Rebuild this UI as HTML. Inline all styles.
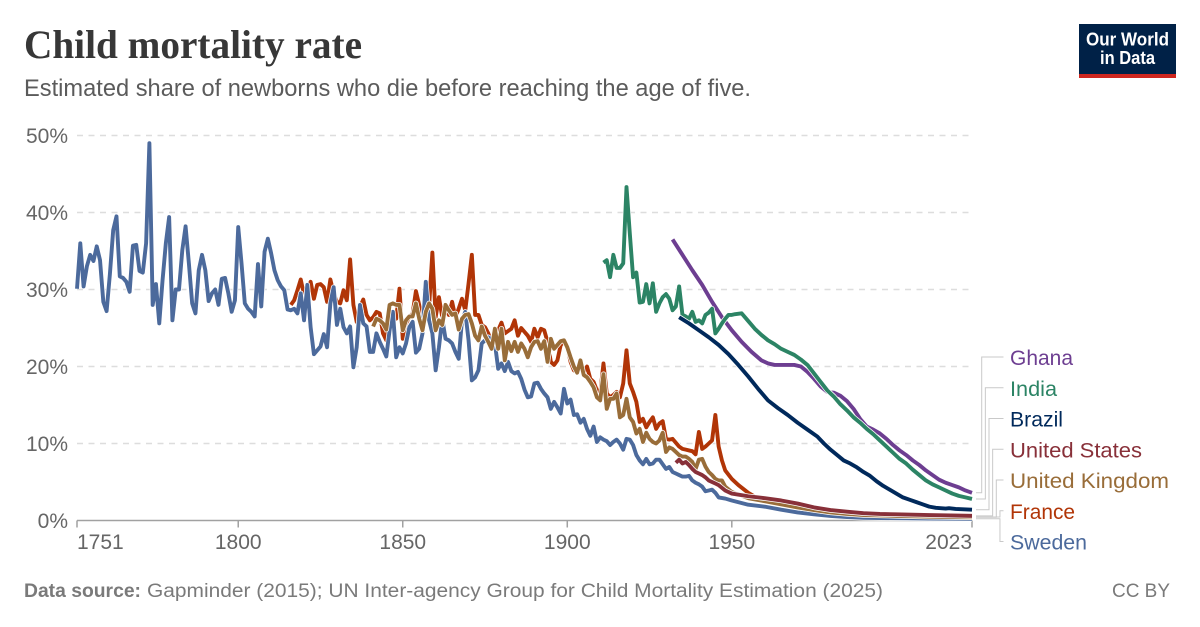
<!DOCTYPE html>
<html lang="en">
<head>
<meta charset="utf-8">
<title>Child mortality rate</title>
<style>
html,body{margin:0;padding:0;background:#fff;}
svg{display:block;}
text{font-family:"Liberation Sans",sans-serif;}
.tick{font-size:21px;fill:#666;}
.series-label{font-size:21px;}
</style>
</head>
<body>
<svg id="chart" xmlns="http://www.w3.org/2000/svg" width="1200" height="627" viewBox="0 0 1200 627">
  <rect width="1200" height="627" fill="#fff"/>
  <text x="24" y="58" style="font-family:'Liberation Serif',serif;font-weight:bold;font-size:40px" fill="#373737" textLength="338" lengthAdjust="spacingAndGlyphs">Child mortality rate</text>
  <text x="24" y="96" font-size="24" fill="#5b5b5b" textLength="727" lengthAdjust="spacingAndGlyphs">Estimated share of newborns who die before reaching the age of five.</text>

  <g>
    <rect x="1079" y="24" width="97" height="54" fill="#002147"/>
    <rect x="1079" y="74" width="97" height="4" fill="#ce261e"/>
    <text x="1127.5" y="45.5" font-size="18" font-weight="bold" fill="#fff" text-anchor="middle" textLength="83" lengthAdjust="spacingAndGlyphs">Our World</text>
    <text x="1127.5" y="64" font-size="18" font-weight="bold" fill="#fff" text-anchor="middle" textLength="55" lengthAdjust="spacingAndGlyphs">in Data</text>
  </g>

  <g id="grid"></g>
  <g id="yticks"></g>
  <g id="xaxis"></g>
  <g id="lines"></g>
  <g id="connectors"></g>
  <g id="legend"></g>

  <text y="597" font-size="19" fill="#7a7a7a"><tspan x="24" font-weight="bold" textLength="117" lengthAdjust="spacingAndGlyphs">Data source:</tspan><tspan x="147" textLength="736" lengthAdjust="spacingAndGlyphs">Gapminder (2015); UN Inter-agency Group for Child Mortality Estimation (2025)</tspan></text>
  <text x="1170" y="597" font-size="19" fill="#7a7a7a" text-anchor="end" textLength="58" lengthAdjust="spacingAndGlyphs">CC BY</text>
</svg>
<script>
function span(a, b) { var r = []; for (var y = a; y <= b; y++) r.push(y); return r; }

const yTickValues = [0, 10, 20, 30, 40, 50];
const xTickYears = [1751, 1800, 1850, 1900, 1950, 2023];

const swedenYears = span(1751, 1946).concat([1948, 1950, 1955, 1960, 1965, 1970, 1975, 1980, 1985, 1990, 2000, 2010, 2023]);
const swedenRates = [
30.1,36,30.4,33,34.5,33.7,35.6,33.8,28.4,27.2,
32,37.7,39.5,31.7,31.5,31,29.7,35.7,35.8,32.4,
32.2,36,49,28,30.7,25.6,31.2,36,39.4,26,
30,30,35.1,38.2,33.4,28.2,26.9,32.5,34.5,32.5,
28.5,29.5,30,28,31.4,31.5,29.5,27.1,28.6,38.1,
33.4,28.2,27.5,27.1,26.5,33.3,27.8,34.9,36.6,34.7,
32.5,31.2,30.4,29.9,27.4,27.3,27.5,26.9,29.5,26,
30.6,25.1,21.6,22.1,22.6,24.2,22.5,28.2,30.3,25.4,
27.5,25.1,24.3,25.2,19.9,22.5,28,25.6,25.2,21.9,
21.9,24.3,23.2,22.3,21.3,24.7,27.1,21.2,22.5,21.7,
23,25.1,25.8,21.8,22.3,24.3,31,26,24.3,19.5,
22.5,26.2,23.6,23.4,23,21.9,21,26,27.1,23.4,
18.2,18.6,19.5,23,23.4,23.8,23.5,23,19.7,20.4,
19.4,20.6,19.4,19.1,19.3,18.4,17,16,16.1,17.8,
17.9,17.1,16.5,16,14.5,15.4,14.7,13.9,17.1,15.2,
15.7,13.7,13.8,12.7,13.2,11.9,11,12.2,10.2,10.8,
10.5,10.3,9.8,10.2,10.5,10,9.2,10.6,10.5,9.8,
8.5,7.8,7.3,8,7.3,7.4,7.9,7.9,7.3,6.7,
6.95,6.3,6.1,5.9,5.7,5.7,5.8,5.2,4.9,4.7,
4.4,3.8,3.9,4,3.6,3,
2.85,2.6,2.05,1.8,1.4,1.05,0.8,0.6,0.45,0.35,0.3,0.25,0.22];

const franceYears = span(1816, 1948).concat([1950, 1952, 1955, 1957, 1960, 1965, 1970, 1975, 1980, 1990, 2000, 2010, 2023]);
const franceRates = [
28,28.6,29.9,31.3,29.3,
29.9,31,28.8,30.6,30.7,30.3,28.4,31.3,29.5,28.4,
28.2,29.9,28.6,33.9,28,25.8,27.7,28.7,26.7,26,
26.4,27.1,26.9,24.3,23.4,26.9,26.9,26.2,30.1,23.6,
25.6,26.4,26.9,29.8,28,25.1,28.6,27.7,34.8,26.4,
29,26.4,27.7,26.7,28.4,26.4,27.5,28.8,27.3,30.8,
34.5,26.7,26.7,25.4,25.1,24.3,23,23,24.7,25.7,
24.3,24.6,24.9,26,24,25,24.5,24,23.2,24.9,
23.8,24.9,24.7,23.2,20.6,20.2,20.8,22.8,23.2,22.5,
20.6,19.5,19.3,20.4,19.3,20,18.4,18,16.9,16.5,
20.4,16.5,16,16.3,16.7,16,17.8,22.1,17.8,16.7,
15.4,12.8,13.2,12.1,12.8,13.4,11.9,12.6,12.9,10.6,
10.5,10.6,10.1,9.6,9.3,9.2,9.1,9,8.6,11.5,
9.3,9.6,10,10.4,13.7,9.6,7.8,6.5,
5.4,4.6,3.6,3.1,2.7,2.1,1.65,1.25,0.95,0.7,0.55,0.5,0.45];

const ukYears = span(1841, 1948).concat([1950, 1955, 1960, 1965, 1970, 1975, 1980, 1985, 1990, 2000, 2010, 2023]);
const ukRates = [
25.2,26.2,26,25.6,24.8,28,28.2,28,28,24.7,
26,26.5,26.5,28.2,26.2,24.7,27.1,28.2,27.5,24.7,
26,25.4,28,27.3,26.7,26.9,24.8,26.2,26.7,26.8,
25.6,24,23.4,25.2,24,23.2,22.3,24.9,22.3,24.9,
20.8,23.2,22,23.2,21.9,23,22.3,21.2,22.5,23.2,
23.3,22.3,23.3,20.6,23.6,22.3,22.8,23.3,23.4,22.5,
21.2,20,19.2,20.8,18.9,18.6,18,17.3,16,15.6,
19,14.5,15.8,15.8,16.5,13.4,13.7,15.8,13.4,12.8,
11.3,11.9,10.2,11.4,10.6,10.2,10,10.4,11.4,8.9,
9.5,9.3,8.9,8.5,8.3,8.3,8,7.6,6.7,7.9,
8,7,6.3,5.9,5.4,5.2,5.2,4.4,
3.7,2.9,2.5,2.1,1.7,1.35,1.05,0.85,0.7,0.6,0.5,0.42];

const usaYears = span(1933, 1946).concat([1948, 1950, 1955, 1960, 1965, 1970, 1975, 1980, 1985, 1990, 1995, 2000, 2010, 2023]);
const usaRates = [7.5,7.9,7.4,7.6,7.2,6.7,6.3,6.1,5.9,5.6,5.2,5,4.8,4.6,3.9,3.5,3.15,2.9,2.6,2.2,1.7,1.35,1.15,0.95,0.85,0.8,0.7,0.6];

const ghanaYears = [1932,1935,1938,1941,1944,1947,1950,1953,1956,1959,1961,1963,1966,1969,1971,1973,1975,1977,1979,1981,1983,1985,1987,1989,1991,1993,1995,1997,1999,2001,2003,2005,2007,2009,2011,2013,2015,2017,2019,2021,2023];
const ghanaRates = [36.5,34.5,32.5,30.6,28.4,26.4,24.7,23.2,21.9,20.8,20.4,20.2,20.2,20.2,20,19.3,18.4,17.4,16.7,16.6,16.2,15.5,14.5,13.2,12.2,11.8,11.3,10.6,9.8,9.1,8.5,7.8,7.2,6.5,5.9,5.3,4.9,4.6,4.3,3.9,3.6];

const indiaYears = span(1911, 1951).concat([1953,1955,1957,1959,1961,1963,1965,1967,1969,1971,1973,1975,1977,1979,1981,1983,1985,1987,1989,1991,1993,1995,1997,1999,2001,2003,2005,2007,2009,2011,2013,2015,2017,2019,2021,2023]);
const indiaRates = [
33.5,33.8,31.6,34.5,32.8,32.8,33.4,43.3,37.3,31.6,
32.2,28.3,28.4,30.7,28.2,30.8,27.1,28.2,29,29.4,
28.8,27.3,27.8,30.4,26.7,26.5,26.2,27.1,25.8,26,
25.6,26.7,27,27.5,24.3,24.9,25.6,26.2,26.7,26.7,26.8,
26.9,25.9,24.9,24.1,23.4,22.9,22.3,21.9,21.5,20.9,20.2,19.1,18,16.9,16.1,15.1,14.3,13.4,12.7,11.9,11.2,10.4,9.6,8.8,8,7.4,6.6,5.9,5.2,4.7,4.3,3.9,3.5,3.2,3,2.8];

const brazilYears = [1934,1937,1940,1943,1946,1949,1952,1955,1958,1961,1964,1967,1970,1973,1976,1978,1980,1982,1984,1986,1988,1990,1992,1994,1996,1998,2000,2002,2004,2006,2008,2010,2012,2015,2016,2018,2023];
const brazilRates = [26.4,25.6,24.7,23.8,22.8,21.6,20.2,18.7,17.1,15.6,14.6,13.7,12.7,11.8,10.9,10,9.2,8.5,7.8,7.4,6.9,6.3,5.8,5.1,4.5,4,3.5,3,2.7,2.4,2.1,1.8,1.65,1.55,1.6,1.5,1.4];

const seriesNames = ['France', 'Sweden', 'United Kingdom', 'United States', 'Ghana', 'India', 'Brazil'];
const seriesYears = [franceYears, swedenYears, ukYears, usaYears, ghanaYears, indiaYears, brazilYears];
const seriesRates = [franceRates, swedenRates, ukRates, usaRates, ghanaRates, indiaRates, brazilRates];
const seriesColors = ['#b13507', '#4c6a9c', '#996d39', '#883039', '#6d3e91', '#2c8465', '#00295b'];

const legendOrder = ['Ghana', 'India', 'Brazil', 'United States', 'United Kingdom', 'France', 'Sweden'];
const legendWidths = [63, 47, 53, 132, 159, 65, 77];

var NS = 'http://www.w3.org/2000/svg';
var X0 = 77, X1 = 972, Y0 = 520.5, Y50 = 135.5, END_YEAR = 2023, START_YEAR = 1751;
function xScale(year) { return X0 + (year - START_YEAR) * (X1 - X0) / (END_YEAR - START_YEAR); }
function yScale(v) { return Y0 - v * (Y0 - Y50) / 50; }
function el(tag, parentId) {
  var e = document.createElementNS(NS, tag);
  document.getElementById(parentId).appendChild(e);
  return e;
}
function slug(s) { return s.toLowerCase().replace(/ /g, '-'); }

yTickValues.forEach(function (v) {
  if (v > 0) {
    var g = el('line', 'grid');
    
    
    g.setAttribute('x1', X0);
    g.setAttribute('x2', X1);
    g.setAttribute('y1', yScale(v));
    g.setAttribute('y2', yScale(v));
    g.setAttribute('stroke', '#dddddd');
    g.setAttribute('stroke-width', '1.5');
    g.setAttribute('stroke-dasharray', '6,5.5');
  }
  var t = el('text', 'yticks');
  
  
  t.setAttribute('class', 'tick');
  t.setAttribute('x', 68);
  t.setAttribute('y', yScale(v) + 7.5);
  t.setAttribute('text-anchor', 'end');
  t.textContent = v + '%';
});

var axisLine = el('line', 'xaxis');


axisLine.setAttribute('x1', X0);
axisLine.setAttribute('x2', X1);
axisLine.setAttribute('y1', Y0);
axisLine.setAttribute('y2', Y0);
axisLine.setAttribute('stroke', '#a1a1a1');
axisLine.setAttribute('stroke-width', '1.5');

xTickYears.forEach(function (year, i) {
  var m = el('line', 'xaxis');
  
  
  m.setAttribute('x1', xScale(year));
  m.setAttribute('x2', xScale(year));
  m.setAttribute('y1', Y0);
  m.setAttribute('y2', Y0 + 7);
  m.setAttribute('stroke', '#a1a1a1');
  m.setAttribute('stroke-width', '1.5');
  var t = el('text', 'xaxis');
  
  
  t.setAttribute('class', 'tick');
  t.setAttribute('x', xScale(year));
  t.setAttribute('y', 549);
  t.setAttribute('text-anchor', i === 0 ? 'start' : (i === xTickYears.length - 1 ? 'end' : 'middle'));
  t.textContent = String(year);
});

seriesNames.forEach(function (name, s) {
  var years = seriesYears[s], rates = seriesRates[s];
  var d = years.map(function (y, i) {
    return (i ? 'L' : 'M') + xScale(y).toFixed(2) + ' ' + yScale(rates[i]).toFixed(2);
  }).join('');
  var halo = el('path', 'lines');
  
  
  halo.setAttribute('d', d);
  halo.setAttribute('fill', 'none');
  halo.setAttribute('stroke', '#fff');
  halo.setAttribute('stroke-width', '5.4');
  halo.setAttribute('stroke-linejoin', 'round');
  var line = el('path', 'lines');
  
  
  line.setAttribute('d', d);
  line.setAttribute('fill', 'none');
  line.setAttribute('stroke', seriesColors[s]);
  line.setAttribute('stroke-width', '3.9');
  line.setAttribute('stroke-linejoin', 'round');
});

var LABEL_X = 1010, LABEL_PITCH = 30.75, LABEL_FIRST = 365;
var ROUTE_START = 976, ROUTE_END = 1003.5, ROUTE_FIRST = 981.7, ROUTE_STEP = 3.65;
legendOrder.forEach(function (name, i) {
  var s = seriesNames.indexOf(name);
  var rates = seriesRates[s];
  var labelBase = LABEL_FIRST + i * LABEL_PITCH;
  var t = el('text', 'legend');
  
  
  t.setAttribute('class', 'series-label');
  t.setAttribute('x', LABEL_X);
  t.setAttribute('y', labelBase);
  t.setAttribute('fill', seriesColors[s]);
  t.setAttribute('textLength', legendWidths[i]);
  t.setAttribute('lengthAdjust', 'spacingAndGlyphs');
  t.textContent = name;

  var endY = yScale(rates[rates.length - 1]);
  var vx = i === 6 ? ROUTE_FIRST + 5 * ROUTE_STEP : ROUTE_FIRST + i * ROUTE_STEP;
  var labelY = labelBase - 8;
  var c = el('path', 'connectors');
  
  
  c.setAttribute('d', 'M' + ROUTE_START + ' ' + endY + 'H' + vx + 'V' + labelY + 'H' + ROUTE_END);
  c.setAttribute('fill', 'none');
  c.setAttribute('stroke', '#c9c9c9');
  c.setAttribute('stroke-width', '1');
});
</script>
</body>
</html>
